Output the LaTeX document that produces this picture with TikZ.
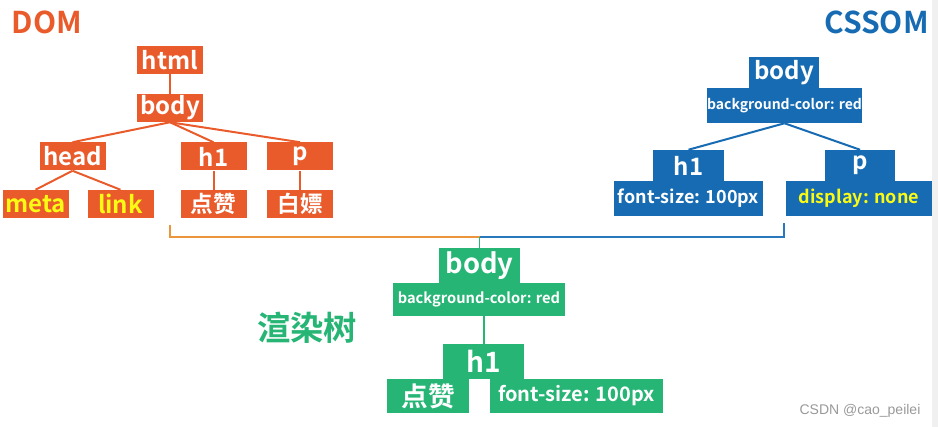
\documentclass[tikz,border=0pt]{standalone}
\usepackage{fontspec}
\setmainfont{Noto Sans CJK SC}[BoldFont={Noto Sans CJK SC Bold}]
\newfontfamily\markfont{Liberation Sans}
\usetikzlibrary{positioning}
\definecolor{domc}{RGB}{233,91,43}
\definecolor{cssc}{RGB}{22,107,178}
\definecolor{rendc}{RGB}{38,181,117}
\definecolor{hilite}{RGB}{250,250,20}
\definecolor{domline}{RGB}{236,150,60}
\definecolor{cssline}{RGB}{40,120,190}
\def\fs#1{\fontsize{#1}{#1}\selectfont}
\tikzset{
	x=0.75pt, y=-0.75pt,
	tag/.style={inner sep=0pt, text=white, font=\bfseries\fs{18}},
	domtag/.style={tag, fill=domc, minimum width=49.5pt, minimum height=21pt},
	csstag/.style={tag, fill=cssc},
	rendtag/.style={tag, fill=rendc},
	domedge/.style={draw=domc, line width=1.5pt},
	cssedge/.style={draw=cssc, line width=1.5pt},
	title/.style={font=\bfseries\fs{22.5}}
}

\begin{document}
\begin{tikzpicture}
			%%%%% START %%%%%
			\useasboundingbox (0, 0) rectangle (938, 427);
			\fill[black!6] (932, 0) rectangle (938, 427);
			
			% DOM
			\node[title, text=domc] (domtitle) at (47, 22) {DOM};
			\node[domtag] (domhtml) at (170, 60) {html};
			\node[domtag] (dombody) at (170, 108) {body};
			\node[domtag] (domhead) at (72.5, 156.5) {head};
			\node[domtag] (domh) at (213.5, 156.5) {h1};
			\node[domtag] (domp) at (300, 156.5) {p};
			\node[domtag, text=hilite] (dommeta) at (35.5, 204) {meta};
			\node[domtag, text=hilite] (domlink) at (120.5, 204) {link};
			\node[domtag, font=\bfseries\fs{17}] (domlike) at (213.5, 204) {点赞};
			\node[domtag, font=\bfseries\fs{17}] (domfree) at (300, 204) {白嫖};
			
			\draw[domedge] (domhtml) -- (dombody);
			\draw[domedge] (dombody.south) -- (domhead.north);
			\draw[domedge] (dombody.south) -- (domh.north);
			\draw[domedge] (dombody.south) -- (domp.north);
			\draw[domedge] (domhead.south) -- (dommeta.north);
			\draw[domedge] (domhead.south) -- (domlink.north);
			\draw[domedge] (domh) -- (domlike);
			\draw[domedge] (domp) -- (domfree);
			
			% CSSOM
			\node[title, text=cssc] (csstitle) at (876.5, 22) {CSSOM};
			\node[csstag, minimum width=52.5pt, minimum height=23.25pt] (cssbody) at (784, 72.5) {body};
			\node[csstag, minimum width=111.75pt, minimum height=26.25pt, font=\bfseries\fs{10.5}] (cssbodyrule) at (784.5, 105.5) {background-color: red};
			\node[csstag, minimum width=53.25pt, minimum height=23.25pt] (cssh) at (688.5, 165.5) {h1};
			\node[csstag, minimum width=111.75pt, minimum height=26.25pt, font=\bfseries\fs{13.5}] (csshrule) at (688.5, 198.5) {font-size: 100px};
			\node[csstag, minimum width=52.5pt, minimum height=23.25pt] (cssp) at (860, 165.5) {p};
			\node[csstag, minimum width=109.5pt, minimum height=26.25pt, text=hilite, font=\bfseries\fs{13.5}] (cssprule) at (859, 198.5) {display: none};
			
			\draw[cssedge] (cssbodyrule.south) -- (cssh.north);
			\draw[cssedge] (cssbodyrule.south) -- (cssp.north);
			
			% merge of both trees
			\coordinate (domend) at (170, 225);
			\coordinate (cssend) at (784, 223);
			\coordinate (merge) at (479.5, 237);
			\draw[domline, line width=1.1pt] (domend) |- (merge);
			\draw[cssline, line width=1.1pt] (merge) -| (cssend);
			
			% render tree
			\node[text=rendc, font=\bfseries\fs{25}] (rendtitle) at (307, 328) {渲染树};
			\node[rendtag, minimum width=60.75pt, minimum height=26.25pt, font=\bfseries\fs{20.5}] (rendbody) at (479.5, 265.5) {body};
			\node[rendtag, minimum width=129pt, minimum height=24.75pt, font=\bfseries\fs{11}] (rendbodyrule) at (479, 299.5) {background-color: red};
			\node[rendtag, minimum width=60.75pt, minimum height=26.25pt, font=\bfseries\fs{21}] (rendh) at (483.5, 361.5) {h1};
			\node[rendtag, minimum width=61.5pt, minimum height=25.5pt, font=\bfseries\fs{20}] (rendlike) at (428, 396) {点赞};
			\node[rendtag, minimum width=129.75pt, minimum height=25.5pt, font=\bfseries\fs{15}] (rendhrule) at (576.5, 396) {font-size: 100px};
			
			\draw[rendc, line width=1.1pt] (merge) -- (rendbody.north);
			\draw[rendc, line width=1.5pt] (rendh.north) -- (rendh.north |- rendbodyrule.south);
			
			\node[text=black!40, font=\markfont\fs{10.5}] (watermark) at (860, 411) {CSDN @cao\_peilei};
			%%%%% END %%%%%
\end{tikzpicture}
\end{document}
